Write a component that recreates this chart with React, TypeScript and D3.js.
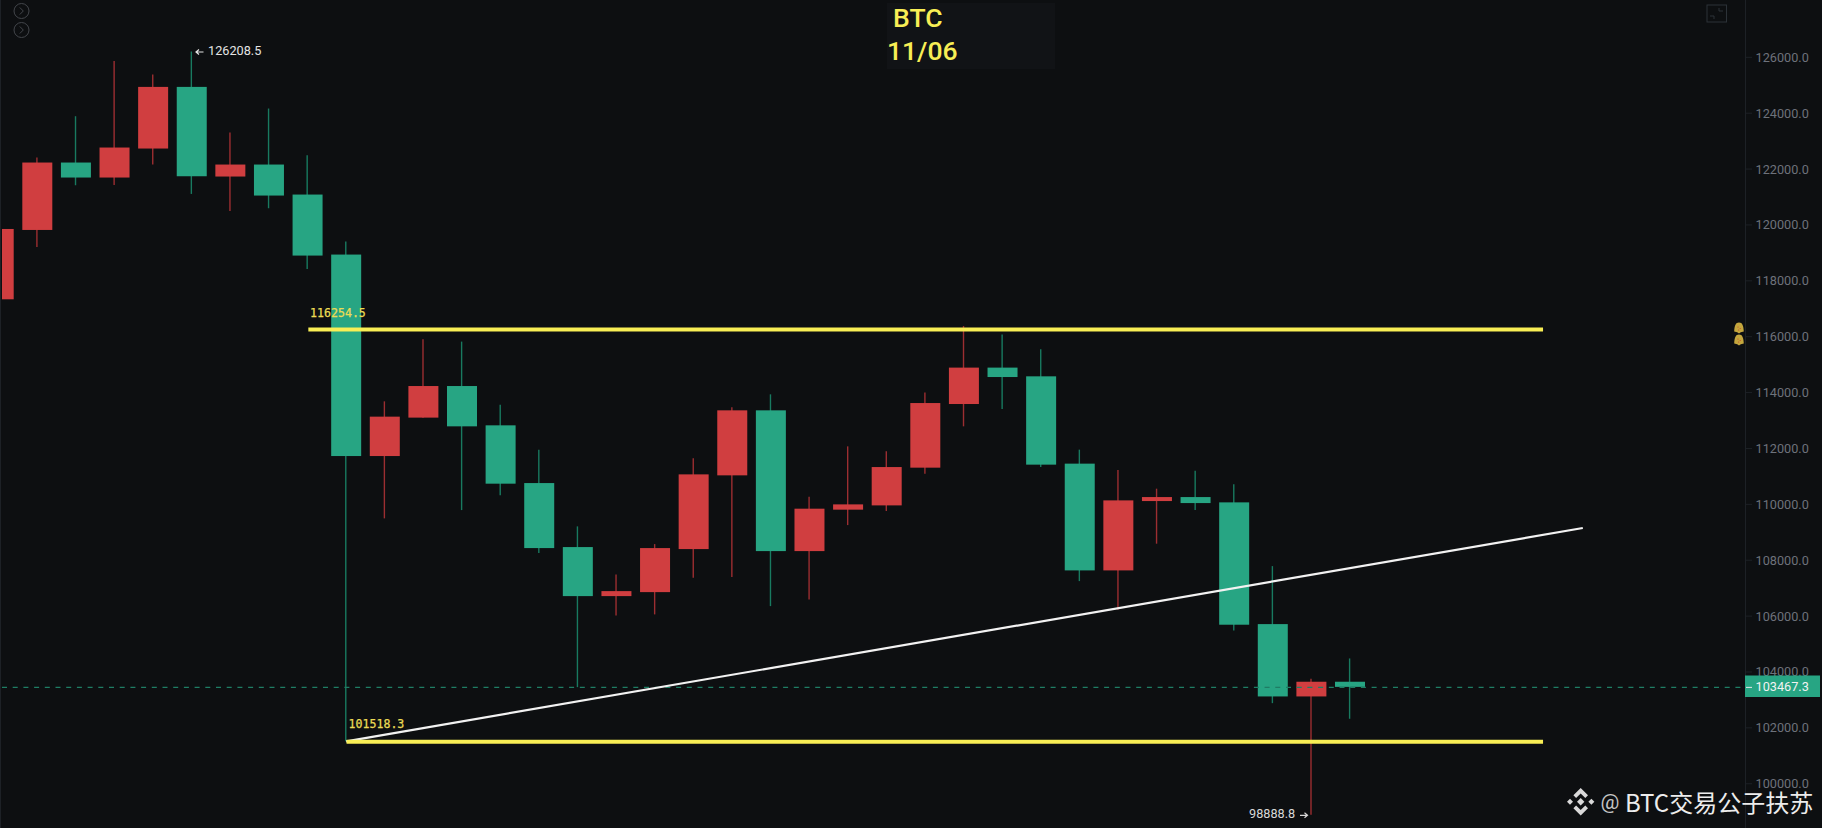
import React from "react";
import * as d3 from "d3";

// Candle series, oldest first. Red candles close above their open, green ones below.
const opens = [117339,119821,122234,121697,122735,124941,121733,122162,121088,118940,111729,113104,114235,112828,110762,108471,106716,106859,108399,111038,113365,108327,109810,109963,111313,113591,114894,114582,111457,107636,110118,110261,110071,105714,103125,103651];
const closes = [119856,122234,121697,122771,124941,121743,122162,121052,118904,111729,113139,114235,112792,110740,108435,106716,106895,108435,111073,113365,108327,109845,109999,111335,113626,114894,114557,111421,107636,110142,110261,110046,105692,103125,103651,103467.3];
const highs = [119856,122413,123892,125872,125385,126208.5,123308,124167,122495,119405,113687,115907,115825,113569,111958,109212,107493,108578,111646,113472,113938,110275,112076,111897,113999,116383,116075,115549,111958,111227,110561,111206,110715,107790,103758,104485];
const lows = [117339,119212,121421,121432,122162,121110,120501,120598,118424,101518.3,109498,113104,109795,110322,108256,103458,106025,106061,107375,107396,106358,106598,109258,109759,111098,112792,113412,111335,107253,106229,108592,109795,105488,102885,98888.8,102326];

const priceTicks = [126000,124000,122000,120000,118000,116000,114000,112000,110000,108000,106000,104000,102000,100000];
const resistance = 116254.5;
const support = 101518.3;
const lastPrice = 103467.3;
const allTimeHigh = 126208.5;
const periodLow = 98888.8;
const trendIndex = [9, 41.03];
const trendValue = [101518.3, 109154];

const BG = "#0d0f11";
const GREEN = "#27a583";
const GREEN_WICK = "#187a60";
const RED = "#d03e40";
const RED_WICK = "#9c2e31";
const YELLOW = "#f8ee55";
const AXIS = "#1d2126";
const AXIS_TEXT = "#6d727b";
const SANS = "Roboto, sans-serif";

const x = d3.scaleLinear().domain([0, 35]).range([-1.3, 1350]);
const y = d3.scaleLinear().domain([98888.8, 116254.5]).range([814.8, 329.6]);

const fmt = d3.format(".1f");
const BODY_W = 30;

function Bell({ cx, cy }: { cx: number; cy: number }) {
  return (
    <g>
      <path
        d={`M${cx - 4.8} ${cy + 3.6}C${cx - 4.6} ${cy - 2} ${cx - 3.4} ${cy - 5.4} ${cx} ${cy - 5.4}C${cx + 3.4} ${cy - 5.4} ${cx + 4.6} ${cy - 2} ${cx + 4.8} ${cy + 3.6}L${cx + 1.8} ${cy + 4.2}L${cx} ${cy + 5.6}L${cx - 1.8} ${cy + 4.2}Z`}
        fill="#c4a63d"
      />
      <circle cx={cx - 1} cy={cy - 1} r={0.6} fill="#c8452f" />
      <circle cx={cx + 1.2} cy={cy + 0.5} r={0.6} fill="#c8452f" />
      <circle cx={cx - 0.4} cy={cy + 2} r={0.6} fill="#c8452f" />
    </g>
  );
}

function Arrow({ x0, x1, cy, color }: { x0: number; x1: number; cy: number; color: string }) {
  const dir = x1 > x0 ? -1 : 1;
  return (
    <path
      d={`M${x0} ${cy}H${x1}M${x1 + dir * 3} ${cy - 2.5}L${x1} ${cy}L${x1 + dir * 3} ${cy + 2.5}`}
      fill="none"
      stroke={color}
      strokeWidth={1.2}
    />
  );
}

export default function App() {
  const candles = opens.map((o, i) => ({
    o,
    c: closes[i],
    h: highs[i],
    l: lows[i],
    up: closes[i] >= o,
    cx: x(i),
  }));
  const trend = d3
    .line<number>()
    .x((d) => x(d))
    .y((_, i) => y(trendValue[i]));
  const xRes0 = x(8.02);
  const xSup0 = x(9.01);
  const xLevelEnd = x(40);

  return (
    <svg
      width={1822}
      height={828}
      viewBox="0 0 1822 828"
      style={{ position: "absolute", left: 0, top: 0, display: "block" }}
    >
      <defs>
        <clipPath id="plot">
          <rect x={2} y={0} width={1744} height={828} />
        </clipPath>
      </defs>
      <rect width={1822} height={828} fill={BG} />
      <line x1={0.5} x2={0.5} y1={0} y2={828} stroke={AXIS} />

      {/* title panel */}
      <rect x={887} y={3} width={168} height={66} fill="#111316" />
      <text x={893} y={26.5} fill={YELLOW} fontFamily={SANS} fontWeight={500} fontSize={26.5}>BTC</text>
      <text x={887} y={60} fill={YELLOW} fontFamily={SANS} fontWeight={500} fontSize={26.5}>11/06</text>

      {/* candles */}
      <g clipPath="url(#plot)">
        {candles.map((d, i) => (
          <g key={i}>
            <line
              x1={d.cx - 0.4}
              x2={d.cx - 0.4}
              y1={y(d.h)}
              y2={y(d.l)}
              stroke={d.up ? RED_WICK : GREEN_WICK}
              strokeWidth={1.4}
            />
            <rect
              x={d.cx - BODY_W / 2}
              y={y(Math.max(d.o, d.c))}
              width={BODY_W}
              height={Math.max(1, Math.abs(y(d.o) - y(d.c)))}
              fill={d.up ? RED : GREEN}
            />
          </g>
        ))}
      </g>

      {/* last price line */}
      <line
        x1={2}
        x2={1745}
        y1={y(lastPrice) + 0.5}
        y2={y(lastPrice) + 0.5}
        stroke="#1f7d64"
        strokeWidth={1.2}
        strokeDasharray="5 5.7"
      />

      {/* drawings */}
      <path d={trend(trendIndex) ?? ""} fill="none" stroke="#f2f2f2" strokeWidth={2.2} />
      <line x1={xRes0} x2={xLevelEnd} y1={y(resistance)} y2={y(resistance)} stroke={YELLOW} strokeWidth={4} />
      <line x1={xSup0} x2={xLevelEnd} y1={y(support) + 0.5} y2={y(support) + 0.5} stroke={YELLOW} strokeWidth={4} />
      <text x={310} y={316.5} fill="#ecdc55" stroke="#ecdc55" strokeWidth={0.25} fontFamily="'DejaVu Sans Mono', monospace" fontSize={11.6}>{fmt(resistance)}</text>
      <text x={348.5} y={728} fill="#ecdc55" stroke="#ecdc55" strokeWidth={0.25} fontFamily="'DejaVu Sans Mono', monospace" fontSize={11.6}>{fmt(support)}</text>

      {/* extreme labels */}
      <Arrow x0={203.5} x1={196} cy={y(allTimeHigh) + 0.5} color="#e4e4e4" />
      <text x={208} y={y(allTimeHigh) + 3.5} fill="#e4e4e4" fontFamily={SANS} fontSize={12.7}>{fmt(allTimeHigh)}</text>
      <text x={1249} y={y(periodLow) + 3.5} fill="#d8d8d8" fontFamily={SANS} fontSize={12.7}>{fmt(periodLow)}</text>
      <Arrow x0={1300} x1={1307.5} cy={y(periodLow) + 0.5} color="#d8d8d8" />

      {/* price axis */}
      <line x1={1745.5} x2={1745.5} y1={0} y2={828} stroke={AXIS} />
      {priceTicks.map((t) => (
        <g key={t}>
          <line x1={1746} x2={1752} y1={y(t)} y2={y(t)} stroke={AXIS} />
          <text x={1755.5} y={y(t) + 4.5} fill={AXIS_TEXT} fontFamily={SANS} fontSize={12.7}>{fmt(t)}</text>
        </g>
      ))}
      <rect x={1745} y={675.5} width={75} height={21.5} fill={GREEN} />
      <line x1={1746} x2={1752} y1={y(lastPrice) + 0.5} y2={y(lastPrice) + 0.5} stroke="#e8e8e8" />
      <text x={1755.5} y={691} fill="#f2f2f2" fontFamily={SANS} fontSize={12.7}>{fmt(lastPrice)}</text>

      {/* alert bells */}
      <Bell cx={1739} cy={328} />
      <Bell cx={1739} cy={340} />

      {/* toolbar icons */}
      {[11, 30].map((cy) => (
        <g key={cy} fill="none" stroke="#43464b" strokeWidth={1}>
          <circle cx={21.5} cy={cy} r={7.5} />
          <path d={`M19.8 ${cy - 3.5}L23.3 ${cy}L19.8 ${cy + 3.5}`} />
        </g>
      ))}
      <g fill="none" stroke="#2c3238" strokeWidth={1}>
        <rect x={1707} y={5} width={19.5} height={17} />
        <path d="M1710 16H1714V19M1723 11H1719V8" />
      </g>

      {/* watermark */}
      <g fill="#d9d9d9">
        <path d="M1580.7 788L1588 795.3L1585.3 798L1580.7 793.4L1576.1 798L1573.4 795.3Z" />
        <path d="M1580.7 815.5L1588 808.2L1585.3 805.5L1580.7 810.1L1576.1 805.5L1573.4 808.2Z" />
        <path d="M1580.7 798L1584.4 801.7L1580.7 805.4L1577 801.7Z" />
        <path d="M1567 801.7L1570 798.7L1573 801.7L1570 804.7Z" />
        <path d="M1588.4 801.7L1591.4 798.7L1594.4 801.7L1591.4 804.7Z" />
      </g>
      <text x={1600.5} y={809} fill="#c4c4c4" fontFamily={SANS} fontSize={21}>@</text>
      <text x={1625} y={811.5} fill="#ececec" fontFamily="'Noto Sans CJK SC', sans-serif" fontSize={24}>BTC交易公子扶苏</text>
    </svg>
  );
}
